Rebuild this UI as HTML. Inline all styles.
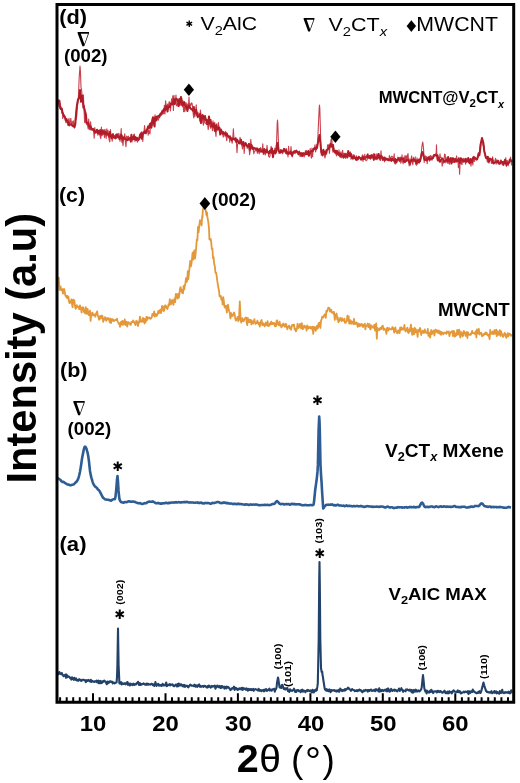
<!DOCTYPE html>
<html><head><meta charset="utf-8"><style>
html,body{margin:0;padding:0;background:#fff;}
body{width:520px;height:783px;overflow:hidden;}
svg{display:block;filter:blur(0.35px);font-family:"Liberation Sans",Arial,sans-serif;}
</style></head><body>
<svg width="520" height="783" viewBox="0 0 520 783">
<rect width="520" height="783" fill="#fff"/>
<polyline points="57.0,97.7 57.6,105.3 58.2,106.3 58.8,100.1 59.4,102.7 60.0,103.2 60.6,109.5 61.2,106.9 61.8,113.1 62.4,110.4 62.7,118.5 63.0,112.3 63.6,116.9 64.2,117.3 64.8,115.4 65.4,120.1 66.0,122.8 66.6,120.0 67.2,121.3 67.8,125.3 68.5,120.2 69.0,118.3 69.6,125.9 70.2,122.5 70.8,118.3 71.4,122.7 72.0,124.8 72.6,121.9 73.3,120.8 73.8,126.1 74.4,128.1 75.0,122.0 75.6,115.7 76.2,119.2 76.8,115.7 77.4,106.0 78.0,102.5 78.6,93.6 78.9,84.5 79.2,77.4 80.0,66.0 80.4,70.6 81.0,87.5 81.6,89.9 82.0,95.5 82.8,97.5 83.4,94.9 83.8,104.6 84.6,122.5 85.2,111.0 85.8,123.2 86.4,123.3 87.0,124.7 87.6,125.6 88.2,129.0 88.7,119.0 89.4,129.4 90.0,129.9 90.6,121.9 91.2,129.9 91.8,128.2 92.4,130.1 93.0,128.2 93.5,129.9 94.2,138.1 94.8,127.5 95.4,132.9 96.0,130.6 96.6,132.9 97.2,129.6 97.8,135.3 98.4,133.8 99.0,131.3 99.6,134.2 100.2,136.5 100.8,138.5 101.4,127.1 102.0,135.7 102.6,134.5 103.0,132.7 103.8,129.8 104.4,137.7 105.0,129.4 105.6,135.8 106.2,138.4 106.8,128.9 107.4,133.4 108.0,130.2 108.6,135.6 109.2,140.1 109.8,141.9 110.4,129.5 111.0,135.5 111.6,138.0 112.2,141.1 112.7,137.4 113.4,133.7 114.0,137.3 114.6,135.5 115.2,135.9 115.8,134.3 116.4,138.2 117.0,138.0 117.6,136.9 118.2,136.6 118.8,133.2 119.4,135.9 120.0,141.5 120.6,137.1 121.2,128.6 121.8,142.2 122.3,139.7 123.0,145.7 123.6,138.4 124.2,136.8 124.8,133.7 125.4,142.7 126.0,146.8 126.6,136.0 127.2,136.6 127.8,140.7 128.4,136.1 129.0,138.0 129.6,137.8 130.2,139.6 130.8,142.5 131.4,139.1 132.0,141.9 132.6,137.6 133.2,140.0 133.8,134.2 134.4,134.1 135.0,141.4 135.6,136.6 136.2,140.1 136.8,139.8 137.4,142.1 138.0,140.3 138.6,140.7 139.2,136.8 139.6,134.7 140.4,134.2 141.0,134.5 141.6,131.9 142.2,133.2 142.8,141.4 143.4,134.5 144.0,131.8 144.6,125.6 145.2,133.8 145.8,131.5 146.4,133.8 147.0,131.4 147.3,130.9 147.6,126.1 148.2,135.2 148.8,130.1 149.4,133.4 150.0,133.8 150.6,122.3 151.2,126.1 151.8,125.7 152.4,125.4 153.0,124.7 153.6,122.8 154.2,122.0 155.0,114.7 155.4,119.4 156.0,116.5 156.6,119.3 157.2,116.3 157.8,120.0 158.4,120.2 159.0,117.5 159.6,116.9 160.2,115.4 160.8,112.6 161.4,113.1 162.0,111.1 162.6,114.2 163.2,112.0 163.8,113.8 164.4,105.2 165.0,114.0 165.6,100.8 166.2,106.0 166.8,107.8 167.5,104.0 168.0,108.8 168.6,104.5 169.2,101.7 169.8,102.1 170.4,111.0 171.0,104.8 171.6,98.8 172.2,103.5 172.8,95.9 173.4,110.5 174.0,95.2 174.6,104.0 175.2,104.0 176.0,95.0 176.4,105.4 177.0,106.0 177.6,103.7 178.2,102.9 178.8,106.1 179.4,102.7 180.0,105.3 180.6,101.8 181.2,105.4 181.8,98.5 182.5,106.6 183.0,100.9 183.6,111.7 184.2,104.3 184.8,111.7 185.4,108.8 186.0,102.6 186.6,108.4 187.2,103.8 187.8,105.7 188.4,107.1 189.0,97.1 189.6,108.5 190.2,103.8 190.8,105.7 191.4,102.9 192.0,103.2 192.5,106.0 193.2,114.0 193.8,118.0 194.4,111.3 195.0,116.4 195.6,111.2 196.2,104.8 196.8,113.8 197.4,115.5 198.0,112.4 198.6,115.8 199.2,117.4 199.8,121.2 200.4,110.1 201.0,115.6 201.6,116.1 202.2,116.0 202.8,121.8 203.4,125.1 204.0,117.1 204.6,121.9 205.0,123.2 205.8,122.9 206.4,124.6 207.0,119.5 207.6,124.2 208.2,129.6 208.8,125.3 209.4,120.4 210.0,125.4 210.6,128.3 211.2,125.4 211.8,122.3 212.4,130.6 213.0,120.7 213.6,127.6 214.2,126.1 214.8,122.3 215.4,131.5 216.0,136.4 216.6,123.8 217.2,130.6 217.8,127.4 218.4,122.6 219.0,127.4 219.6,131.2 220.2,133.0 220.8,131.9 221.4,131.9 222.0,133.9 222.6,133.4 223.2,137.2 223.8,134.1 224.4,132.7 225.0,136.3 225.6,131.4 226.0,136.0 226.8,140.8 227.4,133.6 228.0,135.6 228.6,138.0 229.2,135.7 229.8,142.3 230.4,135.9 231.0,139.3 231.6,140.7 232.2,143.3 232.8,137.8 233.4,128.9 234.0,139.4 234.6,139.2 235.4,141.3 235.8,137.4 236.4,142.5 237.0,152.8 237.6,144.1 238.2,143.2 238.8,141.5 239.4,143.3 240.0,137.4 240.6,139.7 241.2,144.8 241.8,143.6 242.4,148.9 243.0,142.1 243.6,145.0 244.2,153.4 245.0,142.7 245.4,142.5 246.0,145.3 246.6,145.5 247.2,148.4 247.8,146.5 248.4,144.1 249.0,147.2 249.6,154.6 250.2,150.7 250.8,139.2 251.4,147.0 252.0,145.2 252.6,149.7 253.2,147.6 253.8,153.8 254.6,151.2 255.0,151.3 255.6,149.5 256.2,149.1 256.8,150.4 257.4,153.3 258.0,151.4 258.6,149.2 259.2,154.0 259.8,151.2 260.4,147.5 261.0,148.9 261.6,149.7 262.2,149.7 262.8,143.9 263.4,154.5 264.2,153.3 264.6,151.3 265.2,155.0 265.8,153.2 266.4,153.0 267.0,145.3 267.6,151.5 268.2,153.6 268.8,156.6 269.4,157.2 270.0,156.1 270.6,149.1 271.2,146.3 272.0,153.8 272.4,152.4 273.0,154.9 273.6,151.7 274.2,152.8 274.8,148.1 275.4,153.3 276.0,151.1 276.6,141.2 277.2,123.6 277.5,120.0 277.8,123.5 278.4,140.7 279.0,153.5 279.6,153.3 280.2,150.3 280.8,150.7 281.4,152.7 282.0,151.0 282.6,153.8 283.2,152.1 283.5,149.4 283.8,148.9 284.4,151.7 285.0,152.0 285.6,153.2 286.2,148.3 286.8,150.4 287.4,152.0 288.0,156.9 288.6,146.4 289.2,154.1 290.0,151.6 290.4,154.1 291.0,146.6 291.6,153.9 292.2,157.0 292.8,153.1 293.4,153.7 294.0,153.5 294.6,150.3 295.2,153.7 295.8,151.6 296.4,149.9 297.0,151.9 297.5,151.4 298.2,154.1 298.8,152.1 299.4,151.0 300.0,156.6 300.6,154.9 301.2,156.6 301.8,155.1 302.4,155.3 303.0,153.0 303.6,153.5 304.2,156.9 305.0,154.8 305.4,150.6 306.0,154.3 306.6,150.6 307.2,154.6 307.8,154.4 308.4,150.4 309.0,153.9 309.6,153.1 310.2,148.5 310.8,154.7 311.4,158.2 312.0,148.0 312.6,156.6 313.2,149.2 313.8,149.1 314.4,149.2 315.0,144.9 315.6,152.0 316.2,149.1 316.8,144.5 317.5,144.2 318.0,134.2 318.6,120.7 319.2,107.9 319.5,105.0 319.8,108.2 320.4,128.5 321.0,150.6 321.3,155.3 321.6,151.0 322.2,150.7 322.8,154.2 323.4,152.3 324.0,152.6 324.6,156.4 325.0,158.0 325.8,153.8 326.4,151.8 327.0,152.9 327.6,144.8 328.2,148.8 328.8,144.5 329.4,153.5 330.0,147.8 330.6,145.5 331.0,139.7 331.8,138.1 332.4,148.5 333.0,152.3 333.6,147.5 334.2,151.9 335.0,153.0 335.4,150.4 336.0,154.3 336.6,155.9 337.2,153.3 337.8,153.0 338.4,155.6 339.0,149.8 339.6,154.5 340.2,157.4 340.8,151.7 341.4,157.8 342.0,154.3 342.6,150.2 343.2,155.5 343.8,153.4 344.4,156.8 345.0,153.0 345.6,158.5 346.2,153.5 346.8,155.8 347.4,152.7 348.0,152.9 348.8,156.2 349.2,154.2 349.8,153.3 350.4,151.9 351.0,159.1 351.6,158.6 352.0,156.2 352.8,157.8 353.4,154.7 354.0,154.9 354.6,155.5 355.2,158.5 355.8,158.5 356.4,155.9 357.0,159.7 357.6,159.9 358.2,158.4 358.8,156.5 359.4,157.3 360.0,157.2 360.6,159.2 361.2,157.9 361.8,159.9 362.4,154.8 363.0,161.5 363.6,155.9 364.2,157.4 364.8,154.3 365.4,159.2 366.0,160.8 366.6,160.3 367.2,159.6 367.8,153.5 368.4,155.4 369.0,156.2 369.6,156.4 370.2,159.2 370.8,157.7 371.4,157.1 372.0,158.3 372.6,154.7 373.2,154.7 373.8,153.6 374.4,158.3 375.0,157.9 375.6,158.5 376.2,159.8 376.8,153.7 377.4,155.7 378.0,157.6 378.6,153.9 379.2,156.1 379.8,160.1 380.4,160.4 381.0,150.8 381.6,158.0 382.2,157.5 382.8,160.5 383.4,157.4 384.0,159.3 384.6,162.0 385.2,157.9 385.8,157.4 386.4,159.0 387.0,160.6 387.6,160.4 388.2,159.7 388.8,160.8 389.4,155.5 390.0,157.4 390.6,159.9 391.2,157.2 391.8,156.2 392.4,156.6 393.0,157.3 393.6,159.2 394.2,153.9 394.8,163.7 395.4,164.0 396.0,159.4 396.6,162.9 397.2,160.5 397.8,157.0 398.4,159.2 399.0,157.4 399.6,161.7 400.2,157.0 400.8,163.2 401.4,161.3 402.0,154.8 402.6,161.9 403.2,163.8 403.8,157.0 404.4,162.4 405.0,155.5 405.6,160.7 406.2,155.9 406.8,161.3 407.4,155.7 408.0,153.6 408.6,161.2 409.2,166.0 409.8,158.8 410.4,165.3 411.0,160.7 411.6,155.7 412.2,162.0 412.8,164.6 413.4,157.4 414.0,161.9 414.6,161.4 415.2,156.9 415.8,164.4 416.4,165.2 417.0,157.8 417.6,164.3 418.2,159.9 418.8,159.2 419.4,163.1 420.0,159.6 420.6,157.3 421.2,154.2 421.8,147.3 422.6,142.0 423.0,143.5 423.6,149.6 424.2,162.4 424.5,157.8 424.8,160.4 425.4,155.9 426.0,159.4 426.6,156.6 427.2,163.8 427.8,157.0 428.4,159.1 429.0,158.7 429.6,161.2 430.2,155.2 430.8,158.4 431.4,156.0 432.0,160.3 432.6,158.8 433.2,155.8 433.8,156.9 434.4,154.6 435.0,156.1 435.6,154.1 436.2,152.3 436.5,144.9 436.8,155.1 437.4,161.0 438.0,155.1 438.6,158.6 439.2,161.6 440.0,153.8 440.4,157.5 441.0,157.1 441.6,159.8 442.2,166.2 442.8,161.2 443.4,163.2 444.0,159.7 444.6,154.1 445.2,154.5 445.8,162.9 446.4,160.8 447.0,157.1 447.6,163.2 448.2,156.6 448.8,163.2 449.4,164.1 450.0,158.5 450.6,157.7 451.2,162.6 451.8,157.7 452.4,162.6 453.0,157.5 453.6,162.5 454.2,160.7 454.8,159.4 455.4,158.3 456.0,161.1 456.6,155.8 457.0,159.8 457.8,159.5 458.4,167.6 459.0,157.4 459.6,174.2 460.2,159.7 460.8,157.6 461.4,163.9 462.0,164.6 462.6,160.0 463.2,158.2 463.8,160.5 464.4,158.7 465.0,159.6 465.6,164.2 466.2,161.3 466.8,161.1 467.4,161.1 468.0,160.1 468.6,162.3 469.2,162.4 469.8,159.2 470.4,160.3 471.0,166.1 471.6,161.0 472.2,159.5 472.8,165.0 473.4,159.8 474.0,157.0 474.6,161.4 475.2,157.4 476.0,158.3 476.4,160.1 477.0,158.3 477.6,155.6 478.2,154.7 479.0,154.9 479.4,155.6 480.0,146.6 480.6,142.4 481.2,142.9 482.0,138.0 482.4,139.6 483.0,145.4 483.6,145.4 484.2,146.1 485.0,155.2 485.4,155.0 486.0,158.5 486.6,157.6 487.2,161.3 488.0,162.5 488.4,156.6 489.0,163.2 489.6,160.3 490.2,158.8 490.8,159.7 491.4,163.2 492.0,163.4 492.6,156.7 493.2,161.6 493.8,161.2 494.4,161.2 495.0,160.5 495.6,158.2 496.2,164.1 497.0,159.7 497.4,161.1 498.0,160.6 498.6,160.3 499.2,164.0 499.8,163.1 500.4,160.5 501.0,159.9 501.6,161.1 502.2,164.7 502.8,162.6 503.4,164.0 504.0,161.5 504.6,161.7 505.2,162.9 505.8,157.8 506.4,166.5 507.0,160.5 507.6,161.0 508.2,165.8 508.8,163.0 509.4,162.6 510.0,161.0 510.6,157.0 511.2,163.0 512.0,165.5" fill="none" stroke="#c8404c" stroke-width="1.1" stroke-linejoin="round"/>
<polyline points="57.0,98.4 57.8,101.9 58.6,102.8 59.4,100.6 60.2,108.4 61.0,109.2 61.8,108.6 62.7,113.4 63.4,114.5 64.2,116.2 65.0,117.4 65.8,120.4 66.6,119.1 67.4,121.8 68.5,122.5 69.0,125.2 69.8,124.7 70.6,124.6 71.4,124.1 72.2,125.6 73.3,126.3 73.8,125.4 74.6,127.0 75.4,123.5 76.2,111.5 77.0,104.8 78.0,99.5 78.9,98.4 79.4,95.0 80.0,90.0 81.0,101.8 82.0,95.6 82.6,98.4 83.4,107.6 83.8,105.7 84.2,107.9 85.0,111.2 85.8,113.9 86.6,121.3 87.4,123.8 88.2,122.9 88.7,124.9 89.8,127.4 90.6,126.3 91.4,128.6 92.2,129.5 93.0,129.8 93.5,129.0 94.6,131.7 95.4,132.6 96.2,131.7 97.0,129.7 97.8,133.0 98.6,130.8 99.4,133.8 100.2,130.1 101.0,134.2 101.8,132.6 102.6,130.4 103.0,132.4 103.4,133.2 104.2,133.9 105.0,131.7 105.8,131.7 106.6,134.6 107.4,133.5 108.2,135.1 109.0,136.4 109.8,132.0 110.6,135.9 111.4,138.0 112.2,135.3 112.7,134.4 113.8,137.7 114.6,136.9 115.4,138.4 116.2,136.2 117.0,134.2 117.8,137.0 118.6,136.5 119.4,139.0 120.2,138.0 121.0,134.7 121.8,135.7 122.3,139.7 123.4,139.4 124.2,137.1 125.0,138.4 125.8,139.3 126.6,139.5 127.4,140.3 128.2,139.3 129.0,138.7 129.8,138.4 130.6,140.9 131.4,134.8 132.0,138.7 133.0,139.0 133.8,136.2 134.6,139.3 135.4,137.3 136.2,139.9 137.0,137.8 137.8,139.0 138.6,139.7 139.6,137.7 140.2,135.0 141.0,133.2 141.8,138.8 142.6,134.4 143.4,132.3 144.2,133.0 145.0,131.3 145.8,132.5 146.6,129.9 147.3,129.0 148.2,126.5 149.0,128.1 149.8,124.1 150.6,126.8 151.4,127.7 152.2,120.2 153.0,117.3 153.8,123.2 154.6,126.6 155.0,118.3 155.4,117.3 156.2,120.6 157.0,116.5 157.8,116.4 158.6,115.9 159.4,117.1 160.2,114.1 161.0,114.9 161.8,113.0 162.6,110.5 163.4,111.0 164.2,108.7 165.0,110.3 165.8,106.7 166.6,106.1 167.5,111.6 168.2,107.2 169.0,106.5 169.8,107.1 170.6,103.9 171.4,103.6 172.2,104.5 173.0,103.5 173.8,99.2 174.6,104.0 175.4,100.0 176.0,98.7 177.0,99.2 177.8,100.6 178.6,106.1 179.4,98.9 180.2,102.7 181.0,96.9 181.8,102.8 182.5,105.3 183.4,102.7 184.2,102.1 185.0,104.8 185.8,106.6 186.6,107.0 187.4,111.0 188.2,107.1 189.0,105.7 189.8,107.6 190.6,108.3 191.4,109.4 192.5,109.9 193.0,110.8 193.8,106.9 194.6,113.6 195.4,110.8 196.2,109.9 197.0,114.9 197.8,117.1 198.6,115.8 199.4,115.6 200.2,113.7 201.0,123.1 201.8,119.1 202.6,115.1 203.4,116.5 204.2,119.1 205.0,116.0 205.8,120.5 206.6,119.7 207.4,124.0 208.2,124.0 209.0,116.4 209.8,123.1 210.6,120.0 211.4,126.5 212.2,125.1 213.0,126.5 213.8,123.6 214.6,130.3 215.4,131.3 216.0,125.3 217.0,129.0 217.8,127.5 218.6,129.5 219.4,127.6 220.2,134.6 221.0,129.5 221.8,131.5 222.6,133.7 223.4,132.1 224.2,133.5 225.0,133.4 226.0,134.9 226.6,133.3 227.4,135.3 228.2,136.3 229.0,136.5 229.8,137.8 230.6,137.6 231.4,140.0 232.2,138.5 233.0,139.3 233.8,138.7 234.6,139.4 235.4,138.5 236.2,142.1 237.0,139.5 237.8,140.6 238.6,143.0 239.4,143.4 240.2,142.3 241.0,139.8 241.8,144.4 242.6,144.5 243.4,141.9 244.2,146.0 245.0,143.8 245.8,143.4 246.6,145.8 247.4,145.6 248.2,146.6 249.0,143.8 249.8,149.9 250.6,146.1 251.4,144.9 252.2,148.8 253.0,147.4 253.8,148.9 254.6,148.0 255.4,148.8 256.2,149.6 257.0,148.3 257.8,151.0 258.6,149.4 259.4,149.1 260.2,150.9 261.0,151.8 261.8,151.0 262.6,150.2 263.4,152.7 264.2,149.0 265.0,150.3 265.8,152.0 266.6,149.9 267.4,152.1 268.2,152.1 269.0,153.6 269.8,150.8 270.6,151.3 271.4,152.8 272.0,148.4 273.0,157.2 273.8,151.2 274.6,151.0 275.4,153.4 276.0,152.0 277.0,144.5 277.5,143.0 278.6,151.2 279.0,151.5 279.4,151.6 280.2,152.6 281.0,150.1 281.8,152.0 282.6,151.4 283.5,149.9 284.2,148.8 285.0,150.9 285.8,150.2 286.6,153.5 287.4,152.5 288.2,153.8 289.0,153.1 290.0,153.4 290.6,151.8 291.4,153.9 292.2,155.6 293.0,152.2 293.8,151.6 294.6,152.1 295.4,151.4 296.2,151.0 297.0,152.2 297.5,151.5 298.6,154.4 299.4,152.4 300.2,153.2 301.0,154.6 301.8,153.1 302.6,156.1 303.4,153.2 304.2,153.2 305.0,153.9 305.8,154.3 306.6,152.2 307.4,154.1 308.2,151.3 309.0,155.7 309.8,153.0 310.6,151.8 311.4,150.9 312.0,151.4 313.0,150.9 313.8,148.7 314.6,148.0 315.0,148.7 315.4,147.6 316.2,149.0 317.0,148.0 317.5,145.0 318.6,139.1 319.5,135.0 320.2,141.0 321.3,152.0 321.8,153.2 322.6,155.4 323.4,149.7 324.2,153.8 325.0,151.8 325.8,154.0 326.6,149.9 327.4,149.7 328.2,149.2 329.0,148.2 329.8,146.0 330.6,143.7 331.0,144.0 331.4,146.7 332.2,146.1 333.0,144.8 333.8,150.6 334.6,151.2 335.0,152.4 335.4,150.8 336.2,153.3 337.0,150.9 337.8,154.0 338.6,152.9 339.4,155.2 340.2,156.1 341.0,153.9 341.8,155.3 342.6,155.7 343.4,157.6 344.2,157.0 345.0,154.2 345.8,156.4 346.6,156.2 347.4,157.5 348.2,151.1 348.8,152.7 349.8,156.3 350.6,153.5 351.4,154.8 352.0,157.8 353.0,158.7 353.8,156.4 354.6,158.3 355.4,157.8 356.2,160.0 357.0,157.9 357.8,159.4 358.6,156.7 359.4,157.7 360.0,157.9 361.0,159.6 361.8,158.8 362.6,156.8 363.4,158.9 364.2,158.9 365.0,157.6 365.8,157.3 366.6,157.3 367.4,155.0 368.2,157.7 369.0,157.7 369.8,156.0 370.6,158.3 371.4,155.1 372.2,156.3 373.0,156.3 373.8,159.9 374.6,154.6 375.0,157.8 375.4,158.4 376.2,157.6 377.0,158.8 377.8,155.7 378.6,154.0 379.4,158.6 380.2,155.9 381.0,157.3 381.8,156.3 382.6,159.7 383.4,159.6 384.2,157.5 385.0,160.0 385.8,159.1 386.6,158.9 387.4,159.3 388.2,159.0 389.0,160.3 390.0,160.0 390.6,159.0 391.4,161.0 392.2,158.7 393.0,160.1 393.8,160.3 394.6,161.8 395.4,159.0 396.2,162.3 397.0,160.0 397.8,159.5 398.6,158.8 399.4,160.7 400.2,159.9 401.0,158.3 401.8,158.3 402.6,159.1 403.4,159.0 404.2,161.5 405.0,162.0 405.8,161.3 406.6,160.6 407.4,159.5 408.2,160.3 409.0,161.5 409.8,163.4 410.6,161.7 411.4,160.0 412.2,160.5 413.0,159.8 414.0,159.4 414.6,160.2 415.4,160.7 416.2,163.0 417.0,160.2 417.8,161.9 418.6,162.2 419.4,159.4 420.0,161.3 421.0,157.3 421.8,153.2 422.6,152.0 423.4,155.1 424.5,159.7 425.0,159.7 425.8,160.1 426.6,160.4 427.4,158.3 428.2,159.4 429.0,157.0 429.8,159.3 430.6,159.5 431.4,158.5 432.0,158.4 433.0,158.1 433.8,155.3 434.6,155.0 435.4,155.3 436.5,155.5 437.0,154.9 437.8,159.7 438.6,157.7 439.4,161.0 440.0,161.8 441.0,159.9 441.8,158.9 442.6,158.5 443.4,160.4 444.2,161.9 445.0,160.7 445.8,160.6 446.6,159.8 447.4,161.2 448.2,157.3 449.0,160.8 449.8,160.5 450.6,158.5 451.4,163.6 452.2,158.5 453.0,158.9 453.8,158.7 454.6,162.1 455.4,159.2 456.2,161.5 457.0,161.4 457.8,160.9 458.6,158.6 459.4,159.6 460.2,162.9 461.0,158.6 461.8,159.3 462.6,160.2 463.4,161.6 464.2,160.8 465.0,161.5 465.8,158.8 466.6,161.7 467.4,161.1 468.2,157.9 469.0,162.4 469.8,163.4 470.6,158.9 471.4,160.1 472.2,162.0 473.0,157.7 473.8,156.9 474.6,157.8 475.4,158.8 476.0,158.7 477.0,159.5 477.8,157.5 478.6,153.2 479.0,154.9 479.4,155.3 480.2,149.0 481.0,142.4 482.0,138.0 482.6,140.0 483.4,143.1 484.2,151.3 485.0,153.9 485.8,157.6 486.6,158.1 487.4,156.9 488.0,159.2 489.0,161.4 489.8,158.4 490.6,159.6 491.4,159.6 492.2,158.9 493.0,162.7 493.8,163.4 494.6,162.8 495.4,162.2 496.2,161.9 497.0,162.3 497.8,161.0 498.6,163.4 499.4,163.7 500.2,163.5 501.0,161.5 501.8,162.4 502.6,162.1 503.4,164.9 504.2,162.6 505.0,159.7 505.8,163.0 506.6,165.2 507.4,163.4 508.2,163.7 509.0,162.5 509.8,159.6 510.6,159.9 511.4,160.7 512.0,162.3" fill="none" stroke="#b01c28" stroke-width="2" stroke-linejoin="round"/>
<polyline points="57.0,281.0 57.6,280.3 58.2,281.8 58.8,277.7 59.4,289.8 60.0,289.2 60.6,286.5 61.2,290.3 61.8,290.1 62.5,289.1 63.0,293.7 63.6,291.4 64.2,289.0 64.8,292.1 65.4,295.9 66.0,295.5 66.6,297.8 67.2,295.9 67.8,298.4 68.4,296.7 69.0,301.4 69.6,303.2 70.0,301.3 70.8,302.2 71.4,299.5 72.0,304.0 72.6,307.4 73.2,299.6 73.8,299.9 74.4,300.8 75.0,306.4 75.6,308.9 76.2,307.8 76.8,305.2 77.4,306.6 78.0,307.2 78.6,306.6 79.2,309.2 80.0,305.4 80.4,307.1 81.0,308.9 81.6,312.6 82.2,307.5 82.8,307.2 83.4,307.5 84.0,312.1 84.6,309.9 85.2,313.5 85.8,307.2 86.4,313.7 87.0,313.8 87.6,309.0 88.2,312.5 88.8,315.0 89.4,313.0 90.0,310.6 90.6,320.9 91.2,314.2 91.8,313.3 92.5,312.7 93.0,315.7 93.6,314.3 94.2,314.6 94.8,315.0 95.4,316.7 96.0,313.6 96.6,312.9 97.2,311.4 97.8,315.6 98.4,316.8 99.0,319.8 99.6,317.1 100.2,315.9 100.8,318.5 101.4,317.6 102.0,315.5 102.6,316.5 103.2,321.8 103.8,319.2 104.4,319.5 105.0,317.1 105.6,317.7 106.2,320.9 106.8,319.2 107.4,318.1 108.0,319.4 108.6,318.1 109.2,320.3 109.8,322.3 110.4,318.7 111.0,323.1 111.6,319.2 112.2,320.9 112.8,319.2 113.4,320.5 114.0,321.1 114.6,320.3 115.2,319.9 115.8,320.1 116.4,319.9 117.0,318.6 117.5,321.2 118.2,322.6 118.8,323.7 119.4,323.3 120.0,326.9 120.6,323.0 121.2,321.7 121.8,324.7 122.4,320.8 123.0,324.8 123.6,321.3 124.2,323.9 124.8,319.5 125.4,325.1 126.0,323.1 126.6,321.6 127.2,326.7 127.5,325.0 127.8,323.6 128.4,322.1 129.0,323.4 129.6,323.1 130.2,324.8 130.8,324.8 131.4,322.0 132.0,322.1 132.6,322.1 133.2,320.4 133.8,321.8 134.4,322.6 135.0,324.0 135.6,325.1 136.2,320.9 136.8,323.3 137.4,321.3 138.0,326.0 138.6,321.8 139.2,322.7 140.0,316.7 140.4,320.0 141.0,321.7 141.6,320.5 142.2,321.7 142.8,317.9 143.4,321.9 144.0,318.7 144.6,323.5 145.2,319.4 145.8,321.8 146.4,316.8 147.0,320.0 147.6,317.2 148.2,317.7 148.8,318.4 149.4,317.4 150.0,318.3 150.6,318.9 151.2,318.4 151.8,316.7 152.5,313.8 153.0,314.7 153.6,315.5 154.2,311.4 154.8,316.7 155.4,314.4 156.0,314.0 156.6,316.0 157.2,315.0 157.8,313.7 158.4,310.8 159.0,313.0 159.6,312.7 160.2,309.7 160.8,313.2 161.4,311.7 162.0,306.0 162.6,309.9 163.2,306.6 163.8,311.1 164.4,310.0 165.0,305.4 165.6,305.4 166.2,307.0 166.8,308.2 167.4,309.1 168.0,306.9 168.6,304.1 169.2,305.4 169.8,299.1 170.4,303.7 171.0,304.4 171.6,301.6 172.2,299.9 172.8,302.2 173.4,304.9 174.0,300.4 174.6,298.5 175.2,302.2 175.8,294.0 176.4,294.2 177.0,295.7 177.5,298.7 178.2,293.6 178.8,297.9 179.4,294.6 180.0,288.8 180.6,287.1 181.2,290.1 182.0,292.7 182.4,289.9 183.0,293.4 183.6,286.0 184.2,289.5 185.0,284.5 185.4,283.2 186.0,278.1 186.6,282.0 187.2,280.5 187.8,271.1 188.3,279.4 189.0,272.7 189.6,267.2 190.2,261.0 190.8,266.4 191.5,263.7 192.0,258.5 192.6,252.7 193.2,259.7 193.8,252.2 194.4,250.4 195.0,258.7 195.6,253.9 196.2,247.2 196.8,239.5 197.4,240.2 198.0,227.0 198.6,232.4 199.2,226.1 200.0,220.2 200.4,223.8 201.0,222.3 201.6,225.5 202.2,216.0 202.5,217.7 202.8,210.4 203.4,208.1 204.0,206.9 204.6,209.0 205.0,209.0 205.8,210.4 206.4,215.1 207.0,212.3 207.4,217.2 208.2,221.3 209.0,228.2 209.4,239.3 210.0,239.7 210.7,238.9 211.2,242.3 211.8,248.8 212.4,248.4 213.0,258.3 213.6,257.1 214.2,264.0 214.9,266.6 215.4,272.7 216.0,272.5 216.6,275.4 217.2,280.4 217.8,284.1 218.2,286.8 219.0,290.7 219.6,296.3 220.2,296.6 220.8,295.9 221.4,299.8 222.0,298.2 222.6,304.5 223.2,297.1 223.8,300.7 224.4,306.5 225.0,307.6 225.6,305.8 226.2,306.1 226.8,312.6 227.5,305.5 228.0,304.7 228.6,309.0 229.2,311.2 229.8,313.1 230.4,318.5 231.0,313.0 231.5,316.6 232.2,315.1 232.8,315.9 233.4,313.5 234.0,312.5 234.6,314.0 235.2,318.5 236.0,320.6 236.4,318.9 237.0,319.1 237.6,316.9 238.2,321.2 239.0,319.8 239.4,309.9 239.8,301.3 240.6,318.5 241.2,322.5 241.8,320.7 242.4,318.2 243.0,321.0 243.6,321.1 244.2,319.6 245.0,318.1 245.4,318.2 246.0,317.4 246.6,321.8 247.2,325.2 247.8,317.9 248.4,321.6 249.0,322.2 249.6,319.7 250.2,322.1 250.8,319.8 251.4,324.3 252.0,321.0 252.6,322.4 253.2,323.6 253.8,321.6 254.4,319.1 254.8,321.5 255.6,324.0 256.2,322.5 256.8,323.1 257.4,320.7 258.0,323.0 258.6,324.2 259.2,322.9 259.8,326.5 260.4,322.5 261.0,321.0 261.6,320.0 262.2,325.2 262.8,322.9 263.4,325.0 264.0,324.0 264.6,326.3 265.0,325.6 265.8,322.5 266.4,323.8 267.0,325.4 267.6,321.1 268.2,326.2 268.8,325.8 269.4,325.5 270.0,323.3 270.6,324.3 271.2,321.7 271.8,324.0 272.4,322.8 273.0,324.1 273.6,323.1 274.2,322.9 275.0,326.4 275.4,324.0 276.0,326.1 276.6,320.6 277.2,320.4 277.8,324.3 278.4,324.6 279.0,325.6 279.6,321.7 280.2,324.8 280.8,325.2 281.4,327.4 282.0,325.0 282.6,326.2 283.2,323.5 283.8,325.1 284.4,324.7 285.0,326.9 285.6,323.8 286.2,324.2 286.8,327.0 287.4,329.3 288.0,326.8 288.6,326.7 289.2,325.5 290.0,328.4 290.4,327.4 291.0,329.7 291.6,327.1 292.2,324.8 292.8,325.6 293.4,324.9 294.0,324.5 294.6,329.3 295.2,328.5 295.8,331.4 296.4,330.5 297.0,327.7 297.6,323.6 298.2,328.1 298.8,327.1 299.4,326.0 300.0,323.9 300.6,327.7 301.2,328.2 301.8,323.2 302.5,328.9 303.0,329.0 303.6,327.0 304.2,325.5 304.8,327.5 305.4,326.5 306.0,327.4 306.6,330.7 307.2,325.4 307.8,326.6 308.4,328.6 309.0,327.0 309.6,327.5 310.2,328.3 310.8,326.8 311.4,328.4 312.0,329.0 312.6,326.7 313.2,333.9 313.8,327.0 314.4,328.1 315.0,327.1 315.6,330.9 316.2,329.4 317.0,325.6 317.4,328.8 318.0,327.9 318.6,323.1 319.2,326.3 319.8,322.3 320.4,328.0 321.0,320.9 321.6,319.4 322.2,316.7 322.8,317.0 323.4,317.5 324.0,315.4 324.6,314.4 325.2,314.6 325.5,315.1 325.8,317.9 326.4,310.6 327.0,311.8 327.6,309.9 328.2,307.8 328.8,307.7 329.5,308.1 330.0,311.6 330.6,310.0 331.2,309.7 331.8,312.6 332.4,312.5 333.0,312.1 333.6,313.9 334.0,311.8 334.8,320.0 335.4,315.7 336.0,314.5 336.6,313.5 337.2,319.5 337.8,317.3 338.4,322.3 339.0,321.2 339.6,320.0 340.2,317.9 340.8,319.6 341.4,321.0 342.0,318.2 342.6,319.8 343.2,320.6 344.0,320.8 344.4,318.7 345.0,322.9 345.6,322.8 346.2,321.9 346.8,320.9 347.4,315.7 348.0,320.5 348.6,316.3 349.2,323.6 349.8,321.7 350.4,320.2 351.0,323.9 351.6,321.4 352.0,321.5 352.8,322.8 353.4,324.2 354.0,318.9 354.6,323.4 355.2,324.1 355.8,323.2 356.4,322.4 357.0,323.1 357.6,326.9 358.2,323.6 358.8,325.9 359.4,326.2 360.0,324.0 360.6,325.8 361.2,324.2 361.8,324.0 362.4,325.7 363.0,327.1 363.6,324.8 364.2,324.6 364.8,323.6 365.4,329.4 365.8,326.2 366.6,325.9 367.2,325.0 367.8,323.5 368.4,327.1 369.0,327.2 369.6,324.1 370.2,329.4 370.8,328.5 371.4,325.4 372.0,326.3 372.6,326.6 373.2,327.9 373.8,327.4 374.4,324.7 375.0,330.7 375.6,328.6 376.2,323.5 376.8,338.8 377.4,328.0 378.0,329.1 378.6,330.0 379.2,330.2 379.8,328.5 380.4,327.8 381.0,329.2 381.6,327.7 382.2,326.2 382.8,325.7 383.4,329.8 384.0,328.4 384.6,328.8 385.2,329.9 385.8,330.7 386.4,333.8 387.0,328.0 387.6,327.7 388.2,330.7 388.8,329.3 389.4,328.2 390.0,329.2 390.6,329.2 391.2,329.5 391.8,329.3 392.4,327.0 393.0,329.2 393.6,328.3 394.2,332.7 394.8,329.8 395.4,327.4 396.0,331.4 396.6,331.3 397.2,333.3 397.8,331.3 398.4,330.2 399.0,332.7 399.6,333.1 400.2,327.4 400.8,330.4 401.4,327.3 402.0,329.4 402.6,328.4 403.2,329.6 403.8,329.1 404.4,324.8 405.0,329.8 405.6,331.5 406.2,330.5 406.8,329.0 407.4,327.7 408.0,332.5 408.6,333.0 409.2,329.5 409.8,331.5 410.4,327.6 411.0,324.6 411.6,330.2 412.2,334.8 412.8,329.0 413.4,329.5 414.0,334.3 414.6,327.7 415.2,332.6 415.8,329.2 416.4,331.2 417.0,332.1 417.6,336.8 418.2,329.7 418.8,331.3 419.4,331.5 420.0,328.0 420.6,329.5 421.2,335.1 421.8,332.5 422.4,331.7 423.0,330.8 423.6,332.9 424.2,332.9 424.8,329.4 425.4,332.0 426.0,332.7 426.6,333.0 427.2,333.0 427.8,328.8 428.4,335.8 429.0,332.7 429.6,335.7 430.2,337.7 430.8,332.0 431.4,330.0 432.0,334.0 432.6,332.0 433.2,331.5 433.8,330.4 434.4,335.6 435.0,331.5 435.6,329.7 436.2,331.6 436.8,330.2 437.4,332.7 438.0,331.7 438.6,330.5 439.2,333.6 440.0,331.3 440.4,333.9 441.0,334.9 441.6,331.9 442.2,333.5 442.8,333.0 443.4,334.3 444.0,332.6 444.6,332.9 445.2,332.6 445.8,333.3 446.4,333.9 447.0,331.4 447.6,331.8 448.2,332.8 448.8,331.5 449.4,336.1 450.0,333.8 450.6,332.8 451.2,331.7 451.8,331.4 452.4,331.1 453.0,336.1 453.6,330.8 454.2,331.4 454.8,336.6 455.4,335.9 456.0,333.3 456.6,335.3 457.2,329.9 457.8,333.1 458.4,334.5 459.0,329.6 459.6,330.7 460.2,337.5 460.8,335.4 461.4,332.1 462.0,333.8 462.6,336.3 463.2,335.2 463.8,330.8 464.4,333.2 465.0,332.6 465.6,335.8 466.2,333.7 466.8,331.9 467.4,338.0 468.0,332.5 468.6,334.4 469.2,334.8 470.0,335.0 470.4,333.8 471.0,334.6 471.6,332.6 472.2,330.9 472.8,333.2 473.4,333.2 474.0,333.3 474.6,333.9 475.2,332.5 475.8,331.2 476.4,337.5 477.0,329.5 477.6,333.7 478.2,332.4 478.8,328.8 479.4,334.5 480.0,333.3 480.6,333.1 481.2,332.6 481.8,335.9 482.4,336.2 483.0,334.4 483.6,335.2 484.2,333.7 484.8,334.2 485.4,332.5 486.0,334.0 486.6,332.6 487.2,334.7 487.8,335.5 488.4,334.6 489.0,336.3 489.6,339.1 490.2,330.0 490.8,334.1 491.4,333.0 492.0,333.5 492.6,331.5 493.2,334.2 493.8,333.6 494.4,330.1 495.0,333.9 495.6,333.4 496.2,329.7 496.8,336.2 497.4,331.1 498.0,332.4 498.6,334.8 499.2,333.0 499.8,330.1 500.4,336.0 501.0,331.1 501.6,333.1 502.2,334.5 502.8,336.9 503.4,336.6 504.0,334.7 504.6,332.9 505.2,333.6 505.8,336.4 506.4,337.8 507.0,335.4 507.6,333.2 508.2,336.4 508.8,333.7 509.4,333.7 510.0,333.9 510.6,335.6 511.2,335.0 512.0,336.4" fill="none" stroke="#e4983a" stroke-width="1.8" stroke-linejoin="round"/>
<polyline points="57.0,477.4 57.5,477.9 58.0,478.3 58.5,478.4 59.0,479.1 59.5,479.2 60.0,479.6 60.5,479.9 61.0,480.7 61.5,481.3 62.0,481.6 62.5,482.0 63.0,481.8 63.5,482.0 64.0,482.2 64.5,482.6 65.0,482.9 65.5,483.3 66.0,483.6 66.5,483.8 67.0,484.2 67.5,484.4 68.0,484.5 68.5,484.7 69.0,484.7 69.5,485.0 70.0,485.2 70.5,485.2 71.0,485.3 71.5,484.9 72.0,484.8 72.5,484.8 73.0,484.6 73.5,484.4 74.0,484.2 74.5,483.5 75.0,483.2 75.5,482.7 76.0,482.0 76.5,481.8 77.0,481.0 77.5,480.2 78.0,479.2 78.5,477.9 79.0,476.1 79.5,474.0 80.0,471.8 80.5,468.9 81.0,465.8 81.5,462.2 82.0,458.7 82.5,456.1 83.0,453.5 83.5,451.0 84.0,448.7 84.5,447.1 85.0,446.5 85.5,446.8 86.0,447.7 86.5,448.8 87.0,450.7 87.5,452.3 88.0,454.7 88.5,458.0 89.0,461.6 89.5,466.5 90.0,470.9 90.5,473.7 91.0,476.2 91.5,478.1 92.0,479.6 92.5,481.6 93.0,482.9 93.5,484.1 94.0,485.0 94.5,485.7 95.0,486.4 95.5,486.8 96.0,487.2 96.5,487.7 97.0,488.2 97.5,488.8 98.0,489.6 98.5,490.0 98.8,490.2 99.0,490.4 99.5,491.0 100.0,492.0 100.5,492.9 101.0,493.8 101.5,494.8 102.0,495.7 102.5,496.9 103.0,497.7 103.5,498.1 103.8,498.2 104.0,498.4 104.5,498.9 105.0,499.3 105.5,499.4 106.0,499.5 106.5,499.5 107.0,499.7 107.5,499.8 108.0,499.8 108.5,499.9 109.0,499.9 109.5,500.1 110.0,500.4 110.5,500.6 111.0,500.7 111.5,500.4 112.0,500.0 112.5,499.6 113.0,499.4 113.5,499.2 114.0,499.3 114.5,499.3 115.0,498.8 115.5,496.6 116.2,489.8 116.5,486.4 117.0,479.5 117.5,476.0 118.0,481.7 118.5,490.2 119.0,495.8 119.5,499.3 120.0,500.5 120.5,501.4 121.0,502.0 121.5,502.2 122.0,502.3 122.5,502.4 123.0,502.6 123.5,502.6 124.0,502.6 124.5,502.4 125.0,502.1 125.5,502.0 126.0,502.0 126.5,502.1 127.0,502.1 127.5,502.0 128.0,501.7 128.5,501.2 129.0,501.2 129.5,501.4 130.0,501.5 130.5,501.7 131.0,501.7 131.5,501.7 132.0,501.5 132.5,501.5 133.0,501.6 133.5,501.6 134.0,501.8 134.5,501.9 135.0,501.9 135.5,502.2 136.0,502.4 136.5,502.6 137.0,502.8 137.5,502.9 138.0,503.3 138.5,503.1 139.0,503.3 139.5,503.2 140.0,503.1 140.5,503.5 141.0,503.6 141.5,503.8 142.0,503.9 142.5,504.0 143.0,503.8 143.5,503.6 144.0,503.5 144.5,503.1 145.0,503.3 145.5,503.2 146.0,503.2 146.5,503.0 147.0,502.5 147.5,502.3 148.0,501.9 148.5,501.7 149.0,501.7 149.5,501.6 150.0,501.7 150.5,501.7 151.0,501.8 151.5,501.8 152.0,501.6 152.5,501.7 153.0,501.5 153.5,501.7 154.0,502.1 154.5,502.4 155.0,502.7 155.5,503.1 156.0,503.1 156.5,503.3 157.0,503.3 157.5,503.0 158.0,503.2 158.5,503.0 159.0,503.2 159.5,503.4 160.0,503.5 160.5,503.7 161.0,503.5 161.5,503.6 162.0,503.3 162.5,503.3 163.0,503.4 163.5,503.3 164.0,503.3 164.5,503.2 165.0,503.2 165.5,502.9 166.0,502.9 166.5,502.8 167.0,502.9 167.5,503.3 168.0,503.0 168.5,503.2 169.0,503.0 169.5,502.7 170.0,502.9 170.5,502.8 171.0,502.6 171.5,502.6 172.0,502.5 172.5,502.5 173.0,502.5 173.5,502.6 174.0,502.6 174.5,502.4 175.0,502.5 175.5,502.3 176.0,502.1 176.5,502.5 177.0,502.5 177.5,502.4 178.0,502.3 178.5,502.1 179.0,502.3 179.5,502.3 180.0,502.4 180.5,502.5 181.0,502.2 181.5,502.4 182.0,502.3 182.5,502.3 183.0,502.3 183.5,502.1 184.0,502.0 184.5,502.2 185.0,502.1 185.5,502.1 186.0,502.1 186.5,501.8 187.0,501.9 187.5,502.0 188.0,502.2 188.5,502.5 189.0,502.5 189.5,502.4 190.0,502.5 190.5,502.4 191.0,502.4 191.5,502.5 192.0,502.6 192.5,502.5 193.0,502.5 193.5,502.6 194.0,502.7 194.5,502.7 195.0,502.7 195.5,502.7 196.0,502.6 196.5,502.5 197.0,502.6 197.5,502.7 198.0,502.5 198.5,503.0 199.0,503.0 199.5,502.8 200.0,503.0 200.5,502.7 201.0,502.6 201.5,502.9 202.0,502.8 202.5,503.3 203.0,503.4 203.5,503.3 204.0,503.5 204.5,503.0 205.0,503.0 205.5,503.0 206.0,502.9 206.5,503.0 207.0,503.2 207.5,503.1 208.0,503.0 208.5,503.1 209.0,503.2 209.5,503.3 210.0,503.6 210.5,503.8 211.0,503.7 211.5,503.5 212.0,503.2 212.5,502.9 213.0,502.9 213.5,503.0 214.0,503.1 214.5,502.9 215.0,502.8 215.5,502.6 216.0,502.4 216.5,502.3 217.0,502.1 217.5,502.1 218.0,502.0 218.5,502.0 219.0,502.3 219.5,502.4 220.0,502.9 220.5,503.1 221.0,503.0 221.5,503.1 222.0,502.8 222.5,502.7 223.0,502.9 223.5,502.8 224.0,502.4 224.5,502.6 225.0,502.5 225.5,502.8 226.0,503.1 226.5,502.9 227.0,503.2 227.5,503.0 228.0,503.1 228.5,503.5 229.0,503.4 229.5,503.5 230.0,503.6 230.5,503.6 231.0,503.5 231.5,503.6 232.0,503.7 232.5,504.0 233.0,504.1 233.5,503.9 234.0,504.0 234.5,503.7 235.0,503.8 235.5,504.0 236.0,504.1 236.5,504.1 237.0,504.1 237.5,503.8 238.0,503.6 238.5,503.9 239.0,503.9 239.5,504.1 240.0,504.1 240.5,504.0 241.0,504.1 241.5,504.1 242.0,504.3 242.5,504.3 243.0,504.4 243.5,504.5 244.0,504.6 244.5,504.7 245.0,504.6 245.5,504.6 246.0,504.4 246.5,504.4 247.0,504.4 247.5,504.6 248.0,504.8 248.5,504.8 249.0,505.0 249.5,504.8 250.0,504.6 250.5,504.4 251.0,504.5 251.5,504.5 252.0,504.8 252.5,504.7 253.0,504.6 253.5,504.5 254.0,504.6 254.5,504.7 255.0,504.7 255.5,504.6 256.0,504.4 256.5,504.6 257.0,504.7 257.5,504.8 258.0,505.0 258.5,505.0 259.0,505.1 259.5,505.3 260.0,505.3 260.5,505.2 261.0,505.1 261.5,505.0 262.0,505.0 262.5,505.0 263.0,505.1 263.5,505.0 264.0,504.9 264.5,505.0 265.0,504.7 265.5,505.0 266.0,505.0 266.5,505.0 267.0,504.9 267.5,504.9 268.0,504.9 268.5,505.0 269.0,505.1 269.5,505.1 270.0,505.0 270.5,504.9 271.0,504.7 271.5,504.4 272.0,504.3 272.5,504.0 273.0,503.9 273.5,504.0 274.0,503.9 274.5,503.6 275.0,503.3 275.5,502.5 276.0,501.9 276.5,501.4 277.0,501.0 277.5,501.5 278.0,501.8 278.5,502.5 279.0,503.2 279.5,503.7 280.0,503.9 280.5,504.0 281.0,504.2 281.5,504.0 282.0,504.0 282.5,503.9 283.0,503.9 283.5,504.1 284.0,504.4 284.6,504.4 285.0,504.3 285.5,504.2 286.0,504.0 286.5,504.1 287.0,504.3 287.5,504.1 288.0,504.1 288.5,504.0 289.0,504.2 289.5,504.6 290.0,504.6 290.5,504.6 291.0,504.2 291.5,503.9 292.0,503.9 292.5,503.8 293.0,504.2 293.5,504.0 294.0,504.0 294.5,504.2 295.0,504.0 295.5,504.3 296.0,504.5 296.5,504.3 297.0,504.3 297.5,504.3 298.0,504.2 298.5,504.3 299.0,504.4 299.5,504.4 300.0,504.4 300.5,504.6 301.0,504.8 301.5,505.0 302.0,505.2 302.5,505.2 303.0,505.3 303.5,505.3 304.0,505.2 304.5,505.0 305.0,505.0 305.5,504.9 306.0,505.0 306.5,505.2 307.0,505.2 307.5,505.2 308.0,505.3 308.5,505.3 309.0,505.2 309.5,505.2 310.0,505.0 310.5,505.0 311.0,505.0 311.5,505.0 312.0,505.3 312.3,505.2 313.0,505.0 313.5,504.7 314.0,502.1 314.5,497.0 315.2,489.8 315.5,487.7 316.0,484.4 316.6,480.0 317.0,476.6 317.5,471.4 317.9,464.9 318.6,430.0 319.2,416.5 319.5,421.0 319.8,430.1 320.5,465.0 321.0,474.4 321.6,482.9 322.0,489.8 322.3,495.0 323.2,508.4 323.5,508.3 324.0,507.6 324.5,506.4 325.0,505.9 325.5,505.5 326.0,505.1 326.5,504.8 327.0,504.8 327.7,504.7 328.0,504.7 328.5,504.9 329.0,504.7 329.5,504.7 330.0,504.7 330.5,504.6 331.0,504.7 331.5,504.7 332.0,504.4 332.5,504.7 333.0,504.9 333.5,505.0 334.0,505.4 334.5,505.1 335.0,505.1 335.5,505.4 336.0,505.4 336.5,505.3 337.0,504.9 337.5,504.7 338.0,504.7 338.5,505.0 339.0,505.4 339.5,505.6 340.0,505.4 340.5,505.5 341.0,505.6 341.5,505.6 342.0,505.8 342.5,505.7 343.0,505.7 343.5,505.6 344.0,505.8 344.5,506.2 345.0,506.0 345.5,505.9 346.0,505.7 346.5,505.4 347.0,505.7 347.5,506.1 348.0,506.0 348.5,505.9 349.0,506.0 349.5,505.7 350.0,506.0 350.5,506.0 351.0,506.0 351.5,506.2 352.0,506.2 352.5,506.4 353.0,506.2 353.5,506.1 354.0,506.1 354.5,506.0 355.0,506.3 355.5,506.2 356.0,506.2 356.5,506.1 357.0,505.9 357.5,506.0 358.0,506.0 358.5,506.3 359.0,506.4 359.5,506.2 360.0,506.2 360.5,506.1 361.0,506.2 361.5,506.0 362.0,506.3 362.5,506.5 363.0,506.5 363.5,506.8 364.0,506.9 364.5,506.9 365.0,506.7 365.5,506.7 366.0,506.4 366.5,506.3 367.0,506.1 367.5,506.2 368.0,506.2 368.5,506.2 369.0,506.5 369.5,506.5 370.0,506.6 370.5,506.5 371.0,506.6 371.5,506.6 372.0,506.7 372.5,506.9 373.0,506.9 373.5,506.7 374.0,506.9 374.5,506.7 375.0,506.8 375.5,506.8 376.0,506.7 376.5,506.7 377.0,506.5 377.5,506.7 378.0,506.7 378.5,506.8 379.0,506.9 379.5,506.9 380.0,506.7 380.5,506.6 381.0,506.6 381.5,506.5 382.0,506.6 382.5,506.7 383.0,506.7 383.5,506.8 384.0,507.1 384.5,507.3 385.0,507.5 385.5,507.5 386.0,507.3 386.5,507.0 387.0,506.8 387.5,506.6 388.0,506.6 388.5,506.9 389.0,507.1 389.5,507.5 390.0,507.5 390.5,507.5 391.0,507.2 391.5,507.2 392.0,507.3 392.5,507.3 393.0,507.8 393.5,507.8 394.0,508.1 394.5,508.0 395.0,507.7 395.5,507.7 396.0,507.7 396.5,507.6 397.0,507.7 397.5,507.3 398.0,507.1 398.5,507.3 399.0,507.3 399.5,507.4 400.0,507.2 400.5,507.2 401.0,507.3 401.5,507.4 402.0,507.6 402.5,507.4 403.0,507.6 403.5,507.5 404.0,507.4 404.5,507.7 405.0,507.2 405.5,507.2 406.0,507.2 406.5,507.1 407.0,507.6 407.5,507.6 408.0,507.4 408.5,507.3 409.0,507.2 409.5,507.1 410.0,507.2 410.5,507.0 411.0,507.1 411.5,507.1 412.0,507.2 412.5,507.2 413.0,507.3 413.5,506.9 414.0,506.9 414.5,507.3 415.0,507.0 415.5,507.4 416.0,507.3 416.5,507.2 417.0,507.0 417.5,507.0 418.0,507.1 418.5,506.8 419.0,507.0 419.5,506.5 420.0,505.5 420.5,504.6 421.0,503.3 421.5,502.8 422.0,502.6 422.5,502.9 423.0,503.7 423.5,504.7 424.0,505.6 424.5,506.6 425.0,507.0 425.5,507.1 426.0,507.1 426.5,506.9 427.0,507.0 427.5,506.8 428.0,506.8 428.5,507.1 429.0,506.9 429.5,507.0 430.0,506.8 430.5,506.5 431.0,506.5 431.5,506.4 432.0,506.5 432.5,506.6 433.0,506.9 433.5,507.0 434.0,507.1 434.5,507.1 435.0,506.8 435.5,506.7 436.0,506.4 436.5,506.4 437.0,506.6 437.5,506.8 438.0,506.9 438.5,507.1 439.0,506.8 439.6,506.7 440.0,506.6 440.5,506.3 441.0,506.3 441.5,506.7 442.0,506.8 442.5,506.8 443.0,506.7 443.5,506.5 444.0,506.3 444.5,506.4 445.0,506.6 445.5,506.7 446.0,506.9 446.5,506.8 447.0,506.5 447.5,506.6 448.0,506.7 448.5,506.7 449.0,506.9 449.5,506.7 450.0,506.7 450.5,506.9 451.0,506.8 451.5,506.9 452.0,506.8 452.5,506.8 453.0,506.6 453.5,506.3 454.0,506.2 454.5,506.0 455.0,506.2 455.5,506.7 456.0,506.8 456.5,507.0 457.0,507.0 457.5,507.0 458.0,506.9 458.5,507.1 459.0,507.2 459.5,507.1 460.0,507.3 460.5,507.1 461.0,507.2 461.5,507.0 462.0,506.8 462.5,506.7 463.0,506.7 463.5,506.7 464.0,506.8 464.5,506.8 465.0,506.9 465.5,507.2 466.0,507.2 466.5,507.6 467.0,507.5 467.5,507.5 468.0,507.5 468.5,507.1 469.0,507.3 469.5,507.0 470.0,506.9 470.5,507.0 471.0,506.6 471.5,506.5 472.0,506.5 472.5,506.7 473.0,507.0 473.5,506.7 474.0,506.6 474.5,506.3 475.0,505.9 475.5,506.0 476.0,506.1 476.5,506.0 477.0,506.0 477.5,506.0 478.0,506.1 478.5,506.1 479.0,505.8 479.5,505.4 480.0,504.6 480.5,504.1 481.0,503.6 481.6,503.4 482.0,503.5 482.5,503.7 483.0,504.4 483.5,505.0 484.0,505.6 484.5,506.1 485.0,506.3 485.5,506.3 486.0,506.5 486.5,506.6 487.0,506.6 487.5,506.7 488.0,507.0 488.5,506.8 489.0,506.6 489.5,506.5 490.0,506.6 490.5,506.8 491.0,507.2 491.5,507.2 492.0,506.9 492.5,507.0 493.0,506.9 493.5,507.1 494.0,507.1 494.5,507.1 495.0,507.0 495.5,507.0 496.0,507.1 496.5,507.1 497.0,507.1 497.5,507.2 498.0,507.2 498.5,507.2 499.0,507.2 499.5,506.9 500.0,507.1 500.5,507.0 501.0,507.0 501.5,507.3 502.0,507.2 502.5,507.4 503.0,507.6 503.5,507.7 504.0,507.6 504.5,507.7 505.0,507.8 505.5,507.7 506.0,507.8 506.5,507.7 507.0,507.6 507.5,507.4 508.0,507.1 508.5,507.2 509.0,507.0 509.5,507.2 510.0,507.3 510.5,507.4 511.0,507.5" fill="none" stroke="#2e5d94" stroke-width="2.6" stroke-linejoin="round"/>
<polyline points="57.0,672.0 57.6,672.6 58.2,674.3 58.8,673.7 59.4,672.1 60.0,673.6 60.6,673.3 61.2,674.2 61.8,673.0 62.4,674.7 63.0,674.9 63.6,676.2 64.2,675.4 65.0,675.9 65.4,674.5 66.0,677.7 66.6,674.6 67.2,677.3 67.8,676.5 68.4,676.3 69.0,676.8 69.6,677.1 70.2,678.2 70.8,678.1 71.4,679.6 72.0,677.2 72.6,678.9 73.2,678.4 73.8,679.9 74.4,677.7 75.0,679.2 75.6,679.8 76.2,678.5 76.8,680.5 77.4,680.0 78.0,680.7 78.6,680.7 79.2,679.2 79.8,679.4 80.4,680.0 81.0,680.8 81.6,680.9 82.2,679.7 82.8,679.8 83.4,679.7 84.0,680.0 84.6,680.3 85.2,680.4 85.8,682.2 86.4,680.2 87.0,680.4 87.6,681.0 88.2,679.9 88.8,680.4 89.4,680.8 90.0,681.4 90.6,679.8 91.2,682.0 91.8,680.7 92.5,681.1 93.0,681.7 93.6,681.6 94.2,682.0 94.8,681.3 95.4,681.2 96.0,681.6 96.6,680.6 97.2,682.4 97.8,680.9 98.4,680.5 99.0,683.3 99.6,681.6 100.2,680.8 100.8,683.3 101.4,681.6 102.0,682.8 102.6,681.3 103.2,681.8 103.8,680.7 104.4,680.6 105.0,681.4 105.6,682.2 106.2,682.9 106.8,684.2 107.4,681.5 108.0,683.2 108.6,681.9 109.2,682.3 109.8,681.3 110.4,681.3 111.0,681.9 111.6,681.5 112.2,682.5 112.5,681.9 112.8,683.5 113.4,682.6 114.0,682.6 114.6,683.4 115.2,682.9 115.8,682.5 116.6,682.4 117.0,677.0 117.4,665.3 118.0,628.5 118.6,665.1 119.4,683.4 120.0,682.7 120.6,683.6 121.2,682.1 121.8,684.4 122.4,683.4 123.0,683.5 123.6,683.9 124.2,683.4 124.8,683.2 125.4,684.4 126.0,683.5 126.6,682.7 127.2,683.8 127.5,682.1 127.8,684.8 128.4,683.4 129.0,683.6 129.6,685.4 130.2,685.3 130.8,683.7 131.4,684.2 132.0,684.6 132.6,685.1 133.2,683.6 133.8,683.9 134.4,684.8 135.0,684.0 135.6,684.4 136.2,684.4 136.8,683.0 137.4,683.2 138.0,681.8 138.6,683.7 139.2,685.0 139.8,683.1 140.4,685.0 141.0,684.8 141.6,684.0 142.2,684.1 142.8,684.2 143.4,683.4 144.0,683.9 144.6,684.1 145.2,684.7 145.8,684.8 146.4,683.6 147.0,684.9 147.6,683.6 148.2,684.1 148.8,684.6 149.4,684.3 150.0,684.2 150.6,684.6 151.2,683.9 151.8,683.9 152.4,684.2 153.0,685.2 153.6,684.4 154.2,686.0 155.0,684.7 155.4,682.1 156.0,684.2 156.6,685.9 157.2,684.6 157.8,684.2 158.4,683.9 159.0,685.7 159.6,685.5 160.2,685.2 160.8,685.0 161.4,685.9 162.0,685.4 162.6,683.8 163.2,685.4 163.8,684.9 164.4,684.7 165.0,685.5 165.6,684.9 166.2,682.5 166.8,686.1 167.4,685.8 168.0,684.8 168.6,684.7 169.2,685.2 169.8,684.0 170.4,685.3 171.0,684.9 171.6,684.8 172.2,684.3 172.8,684.6 173.4,686.0 174.0,686.2 174.6,685.6 175.2,685.1 175.8,684.5 176.4,685.8 177.0,686.5 177.6,684.0 178.2,686.2 178.8,683.6 179.4,685.0 180.0,685.6 180.6,684.3 181.2,684.2 181.8,685.5 182.4,686.1 183.0,685.1 183.6,686.5 184.2,684.9 185.0,686.9 185.4,685.6 186.0,685.7 186.6,686.0 187.2,685.8 187.8,687.1 188.4,687.4 189.0,686.1 189.6,685.5 190.2,684.7 190.8,685.1 191.4,685.7 192.0,685.6 192.6,685.7 193.2,685.7 193.8,686.1 194.4,684.7 195.0,685.0 195.6,686.7 196.2,686.5 196.8,685.4 197.4,686.9 198.0,685.3 198.6,685.7 199.2,684.4 199.8,686.6 200.4,685.9 201.0,686.8 201.6,686.5 202.2,686.0 202.8,686.1 203.4,686.9 204.0,685.9 204.6,685.9 205.2,686.1 205.8,686.7 206.4,686.8 207.0,687.6 207.6,686.1 208.2,687.2 208.8,685.6 209.4,686.7 210.0,686.3 210.6,687.6 211.2,686.7 211.8,685.9 212.4,686.8 213.0,686.6 213.6,686.1 214.2,686.1 214.8,685.7 215.4,688.6 216.0,686.6 216.6,687.3 217.2,685.6 217.5,685.7 217.8,686.4 218.4,686.5 219.0,687.3 219.6,685.9 220.2,687.2 220.8,688.0 221.4,686.1 222.0,687.6 222.6,686.2 223.2,687.3 223.8,687.4 224.4,688.6 225.0,686.7 225.6,687.5 226.2,688.3 226.8,686.6 227.4,687.6 228.0,687.0 228.6,687.2 229.2,688.4 229.8,688.5 230.4,690.1 231.0,689.2 231.6,689.2 232.2,688.1 232.8,688.1 233.4,688.5 234.0,686.7 234.6,689.9 235.2,688.1 235.8,687.8 236.4,688.4 237.0,689.5 237.6,689.9 238.2,688.6 238.8,689.3 239.4,688.9 240.0,688.2 240.6,689.2 241.2,689.1 241.8,687.9 242.4,690.0 243.0,687.9 243.6,689.4 244.2,688.4 244.8,688.6 245.4,688.7 246.0,689.9 246.6,688.4 247.2,689.2 247.8,690.7 248.4,688.9 249.0,689.4 249.6,690.0 250.2,689.1 250.8,689.9 251.4,689.0 252.0,690.2 252.6,689.7 253.2,688.9 253.8,690.8 254.4,689.6 255.0,689.5 255.6,689.0 256.2,689.4 256.8,689.7 257.4,689.9 258.0,690.7 258.6,688.8 259.2,689.6 259.8,690.8 260.4,690.0 261.0,690.2 261.6,691.2 262.2,690.2 262.8,690.3 263.4,689.9 264.0,691.4 264.6,690.8 265.2,689.4 265.8,690.4 266.4,689.1 267.0,690.9 267.6,690.5 268.2,689.9 268.8,689.7 269.4,688.6 270.0,690.6 270.6,689.9 271.2,689.7 271.8,690.6 272.4,689.4 273.0,689.4 273.6,689.3 274.2,688.7 274.8,691.6 275.4,689.5 276.0,689.2 276.6,687.3 277.0,682.7 278.0,677.5 278.4,679.3 279.0,683.6 279.6,687.4 280.0,686.4 280.8,687.7 281.4,688.0 281.7,685.2 282.0,685.1 282.5,684.8 283.2,687.6 283.5,687.9 283.8,688.9 284.4,689.2 285.0,688.2 285.6,689.5 286.2,688.7 286.8,688.3 287.4,688.1 288.0,691.0 288.6,690.2 289.2,691.9 290.0,689.2 290.4,690.1 291.0,690.7 291.6,690.3 292.2,690.9 292.8,690.6 293.4,690.0 294.0,688.7 294.6,689.8 295.2,692.0 295.8,691.2 296.4,691.8 297.0,690.2 297.6,690.5 298.2,690.0 298.8,691.1 299.4,690.8 300.0,691.1 300.6,692.2 301.2,690.1 301.8,691.4 302.4,689.7 303.0,691.7 303.6,690.5 304.2,690.8 304.8,691.0 305.4,692.2 306.0,690.9 306.6,690.5 307.2,689.9 307.8,691.1 308.4,690.2 309.0,690.5 309.6,690.9 310.0,691.4 310.8,690.3 311.4,691.4 312.0,692.3 312.6,689.7 313.2,691.9 313.8,692.5 314.4,690.2 315.0,691.1 315.6,689.5 316.2,690.7 316.5,690.1 316.8,690.2 317.4,686.4 317.8,683.4 318.7,639.8 319.2,582.0 319.5,562.0 319.8,582.7 320.3,639.6 321.0,667.8 321.6,671.9 322.2,671.7 322.5,675.0 322.8,676.2 323.5,681.0 324.0,684.2 324.6,688.2 325.0,689.3 325.8,690.3 326.4,689.1 327.0,691.0 327.6,689.6 328.2,690.9 328.8,691.2 329.4,689.4 330.0,691.2 330.6,692.1 331.2,690.0 331.8,690.9 332.4,690.3 333.0,690.5 333.6,690.3 334.2,690.0 334.8,691.0 335.4,691.1 336.0,690.4 336.6,691.6 337.2,691.2 337.8,690.9 338.4,689.8 339.0,691.8 339.6,691.4 340.2,688.6 340.8,689.4 341.4,689.8 342.0,690.9 342.6,691.1 343.2,689.9 343.8,690.3 344.4,690.6 345.0,689.0 345.6,690.3 346.2,689.2 346.8,689.1 347.4,688.6 348.0,687.6 348.6,687.9 349.2,689.0 349.8,689.6 350.4,689.6 351.0,690.8 351.6,689.7 352.2,689.1 352.8,689.8 353.4,690.0 354.0,690.0 354.6,691.1 355.2,690.6 355.8,691.0 356.4,690.7 357.0,690.1 357.6,691.1 358.2,690.1 358.8,690.5 359.4,689.5 360.0,690.4 360.6,690.1 361.2,690.6 361.8,691.8 362.4,692.3 363.0,691.2 363.6,690.4 364.2,691.1 364.8,690.6 365.4,689.9 366.0,690.4 366.6,690.2 367.2,690.0 367.8,691.6 368.4,690.0 369.0,690.1 369.6,691.0 370.2,689.9 370.8,689.6 371.4,689.8 372.0,690.9 372.6,690.8 373.2,690.7 373.8,690.1 374.4,689.8 375.0,691.2 375.6,689.3 376.2,690.3 376.8,689.4 377.4,690.2 378.0,690.4 378.6,691.5 379.2,688.2 380.0,691.6 380.4,689.8 381.0,690.7 381.6,691.2 382.2,689.9 382.8,690.4 383.4,690.9 384.0,690.4 384.6,689.9 385.2,690.6 385.8,690.5 386.4,689.2 387.0,691.5 387.6,690.5 388.2,688.4 388.8,689.7 389.4,691.7 390.0,691.5 390.6,690.5 391.2,688.9 391.8,690.0 392.4,691.0 393.0,690.5 393.6,689.9 394.2,689.5 394.8,690.8 395.4,689.9 396.0,690.3 396.6,690.5 397.2,691.4 397.8,690.2 398.4,690.2 399.0,688.6 399.6,690.9 400.0,690.7 400.8,690.0 401.4,688.2 402.0,689.6 402.6,690.1 403.2,691.8 403.8,690.6 404.4,690.8 405.0,690.8 405.6,691.3 406.2,689.4 406.8,689.6 407.4,689.4 408.0,690.2 408.6,690.1 409.2,690.6 409.8,689.7 410.4,690.6 411.0,689.9 411.6,692.3 412.2,690.3 412.8,692.8 413.4,692.1 414.0,689.9 414.6,691.6 415.2,691.4 415.8,689.7 416.4,691.4 417.0,690.9 417.6,691.3 418.2,690.3 418.8,691.0 419.4,691.4 420.0,690.9 420.6,690.1 421.2,689.3 421.7,687.5 422.4,680.4 423.0,675.0 423.6,680.6 424.3,688.0 424.8,690.0 425.4,691.7 426.0,690.5 426.6,693.4 427.2,690.7 427.8,692.0 428.4,691.9 429.0,692.7 429.6,691.7 430.2,690.6 430.8,692.0 431.4,689.8 432.0,691.6 432.6,691.4 433.2,693.1 433.8,691.6 434.4,691.5 435.0,691.3 435.6,691.2 436.2,691.5 436.8,692.4 437.4,690.9 438.0,691.8 438.6,690.8 439.2,691.8 439.8,692.1 440.4,691.0 441.0,691.5 441.6,692.1 442.2,692.6 442.8,692.7 443.4,691.9 444.0,691.2 444.6,690.7 445.2,692.6 445.8,693.1 446.4,692.3 447.0,693.3 447.6,691.6 448.2,691.7 448.8,693.3 449.4,691.2 450.0,692.5 450.6,692.3 451.2,692.1 451.8,693.4 452.4,691.3 453.0,691.7 453.6,690.3 454.2,691.2 454.8,691.6 455.4,691.7 456.0,691.8 456.6,692.2 457.2,691.5 457.8,690.4 458.4,692.1 459.0,692.3 459.6,691.1 460.2,691.4 460.8,693.4 461.4,692.8 462.0,692.9 462.6,692.5 463.2,692.1 463.8,691.6 464.4,692.5 465.0,691.8 465.6,691.6 466.2,692.0 466.8,691.9 467.4,692.7 468.0,691.2 468.6,694.0 469.2,691.2 469.8,691.7 470.4,692.8 471.0,691.3 471.6,691.6 472.2,692.0 472.8,689.6 473.4,691.6 474.0,691.2 474.6,691.8 475.2,692.4 475.8,692.5 476.4,693.2 477.0,693.2 477.6,692.8 478.2,692.0 478.8,692.8 479.4,691.2 480.0,691.9 480.6,692.8 481.2,691.4 482.0,688.2 482.4,687.1 483.0,684.1 483.5,682.5 484.2,685.3 485.0,687.9 485.4,688.9 486.0,690.9 486.6,691.0 487.0,692.0 487.8,692.1 488.4,692.4 489.0,692.0 489.6,692.6 490.2,692.8 490.8,692.3 491.4,691.2 492.0,693.3 492.6,692.4 493.2,692.6 493.8,692.4 494.4,691.0 495.0,692.8 495.6,691.8 496.2,691.4 496.8,693.4 497.4,692.2 498.0,692.6 498.6,693.1 499.2,693.7 499.8,691.0 500.4,691.9 501.0,693.0 501.6,691.9 502.2,689.8 502.8,692.6 503.4,692.7 504.0,693.1 504.6,692.7 505.2,692.1 505.8,692.7 506.4,692.5 507.0,692.1 507.6,692.7 508.2,692.8 508.8,691.7 509.4,693.3 510.0,693.2 510.6,693.1 511.2,690.3 512.0,692.6" fill="none" stroke="#22426a" stroke-width="2.1" stroke-linejoin="round"/>
<path d="M93.0,701V693.3 M165.5,701V693.3 M237.9,701V693.3 M310.4,701V693.3 M382.8,701V693.3 M455.3,701V693.3 M60.1,701V697.3 M66.7,701V697.3 M73.2,701V697.3 M79.8,701V697.3 M86.4,701V697.3 M99.6,701V697.3 M106.2,701V697.3 M112.8,701V697.3 M119.3,701V697.3 M125.9,701V697.3 M132.5,701V697.3 M139.1,701V697.3 M145.7,701V697.3 M152.3,701V697.3 M158.9,701V697.3 M172.0,701V697.3 M178.6,701V697.3 M185.2,701V697.3 M191.8,701V697.3 M198.4,701V697.3 M205.0,701V697.3 M211.6,701V697.3 M218.2,701V697.3 M224.7,701V697.3 M231.3,701V697.3 M244.5,701V697.3 M251.1,701V697.3 M257.7,701V697.3 M264.3,701V697.3 M270.9,701V697.3 M277.4,701V697.3 M284.0,701V697.3 M290.6,701V697.3 M297.2,701V697.3 M303.8,701V697.3 M317.0,701V697.3 M323.6,701V697.3 M330.1,701V697.3 M336.7,701V697.3 M343.3,701V697.3 M349.9,701V697.3 M356.5,701V697.3 M363.1,701V697.3 M369.7,701V697.3 M376.3,701V697.3 M389.4,701V697.3 M396.0,701V697.3 M402.6,701V697.3 M409.2,701V697.3 M415.8,701V697.3 M422.4,701V697.3 M429.0,701V697.3 M435.5,701V697.3 M442.1,701V697.3 M448.7,701V697.3 M461.9,701V697.3 M468.5,701V697.3 M475.1,701V697.3 M481.6,701V697.3 M488.2,701V697.3 M494.8,701V697.3 M501.4,701V697.3 M508.0,701V697.3" stroke="#000" stroke-width="2" fill="none"/>
<rect x="57" y="4.5" width="456.5" height="196" fill="none"/>
<path d="M57,4.5H513.7V702.3H57Z" fill="none" stroke="#000" stroke-width="3"/>
<!-- tick labels -->
<g font-weight="bold" font-size="21.6" text-anchor="middle" fill="#000">
<text x="93" y="731" textLength="26.6" lengthAdjust="spacingAndGlyphs">10</text><text x="165.5" y="731" textLength="26.6" lengthAdjust="spacingAndGlyphs">20</text><text x="238.4" y="731" textLength="26.6" lengthAdjust="spacingAndGlyphs">30</text>
<text x="311" y="731" textLength="26.6" lengthAdjust="spacingAndGlyphs">40</text><text x="383.2" y="731" textLength="26.6" lengthAdjust="spacingAndGlyphs">50</text><text x="455.2" y="731" textLength="26.6" lengthAdjust="spacingAndGlyphs">60</text>
</g>
<text y="771.5" font-size="37" fill="#000"><tspan x="236.8" font-size="39.5" font-weight="bold">2</tspan><tspan x="259.3" font-size="39">θ</tspan><tspan x="291">(</tspan><tspan x="305" font-size="40" dy="3.5">°</tspan><tspan x="322.5" dy="-3.5">)</tspan></text>
<text transform="translate(35.5,483.5) rotate(-90)" font-size="42" font-weight="bold" fill="#000" textLength="270.5" lengthAdjust="spacingAndGlyphs">Intensity (a.u)</text>
<!-- panel labels -->
<g font-weight="bold" font-size="20" fill="#000">
<text x="59.3" y="24" textLength="27.8" lengthAdjust="spacingAndGlyphs">(d)</text>
<text x="59" y="201.5" textLength="26" lengthAdjust="spacingAndGlyphs">(c)</text>
<text x="60" y="376.5" textLength="27.5" lengthAdjust="spacingAndGlyphs">(b)</text>
<text x="59.5" y="551" textLength="27" lengthAdjust="spacingAndGlyphs">(a)</text>
</g>
<!-- legend -->
<g fill="#000" font-size="19">
<text font-family="'Liberation Sans', 'DejaVu Sans', sans-serif" x="189.2" y="26.6" font-size="9" text-anchor="middle">✱</text>
<text x="200.5" y="30" textLength="56.5" lengthAdjust="spacingAndGlyphs">V<tspan font-size="13" dy="5">2</tspan><tspan dy="-5">AlC</tspan></text>
<text font-family="'Liberation Serif', 'Noto Serif CJK SC', 'DejaVu Serif', serif" x="309" y="31" font-size="17" font-weight="bold" text-anchor="middle">∇</text>
<text x="328.5" y="31" textLength="58.5" lengthAdjust="spacingAndGlyphs">V<tspan font-size="13" dy="5">2</tspan><tspan dy="-5">CT</tspan><tspan font-size="13" font-style="italic" dy="5">x</tspan></text>
<text font-family="'Liberation Sans', 'DejaVu Sans', sans-serif" transform="translate(411.3,25.9) scale(1,1.22)" y="3.7" font-size="12.6" text-anchor="middle">◆</text>
<text x="416.3" y="31.4" font-size="20" textLength="81.6" lengthAdjust="spacingAndGlyphs">MWCNT</text>
</g>
<!-- panel d annotations -->
<g fill="#000" font-weight="bold">
<text font-family="'Liberation Serif', 'Noto Serif CJK SC', 'DejaVu Serif', serif" x="83.2" y="45.5" font-size="18" text-anchor="middle">∇</text>
<text x="64" y="62" font-size="17.5" textLength="43.5" lengthAdjust="spacingAndGlyphs">(002)</text>
<text font-family="'Liberation Sans', 'DejaVu Sans', sans-serif" transform="translate(188.9,89.4) scale(1,1.22)" y="3.9" font-size="13.4" text-anchor="middle">◆</text>
<text font-family="'Liberation Sans', 'DejaVu Sans', sans-serif" transform="translate(335.3,136.1) scale(1,1.22)" y="3.9" font-size="13.4" text-anchor="middle">◆</text>
<text x="378.7" y="102.5" font-size="16" textLength="125.4" lengthAdjust="spacingAndGlyphs">MWCNT@V<tspan font-size="11" dy="4">2</tspan><tspan dy="-4">CT</tspan><tspan font-size="10.5" font-style="italic" dy="5.5">x</tspan></text>
</g>
<!-- panel c -->
<g fill="#000" font-weight="bold">
<text font-family="'Liberation Sans', 'DejaVu Sans', sans-serif" transform="translate(204.8,203) scale(1,1.22)" y="4.1" font-size="14" text-anchor="middle">◆</text>
<text x="211.6" y="206" font-size="18" textLength="44.6" lengthAdjust="spacingAndGlyphs">(002)</text>
<text x="438" y="315.8" font-size="17.7" textLength="71.6" lengthAdjust="spacingAndGlyphs">MWCNT</text>
</g>
<!-- panel b -->
<g fill="#000" font-weight="bold">
<text font-family="'Liberation Serif', 'Noto Serif CJK SC', 'DejaVu Serif', serif" x="79" y="414.5" font-size="18" text-anchor="middle">∇</text>
<text x="67.6" y="434.5" font-size="17.5" textLength="43.6" lengthAdjust="spacingAndGlyphs">(002)</text>
<text font-family="'Liberation Sans', 'DejaVu Sans', sans-serif" x="118" y="471" font-size="13" text-anchor="middle">✱</text>
<text font-family="'Liberation Sans', 'DejaVu Sans', sans-serif" x="317.6" y="405" font-size="13" text-anchor="middle">✱</text>
<text x="385" y="457" font-size="18" textLength="119" lengthAdjust="spacingAndGlyphs">V<tspan font-size="12" dy="4">2</tspan><tspan dy="-4">CT</tspan><tspan font-size="12" font-style="italic" dy="4">x</tspan><tspan dy="-4"> MXene</tspan></text>
</g>
<!-- panel a -->
<g fill="#000" font-weight="bold">
<text font-family="'Liberation Sans', 'DejaVu Sans', sans-serif" x="119.9" y="619.3" font-size="13" text-anchor="middle">✱</text>
<text font-family="'Liberation Sans', 'DejaVu Sans', sans-serif" x="319.9" y="557.5" font-size="13" text-anchor="middle">✱</text>
<g font-size="9.8" lengthAdjust="spacingAndGlyphs">
<text transform="translate(122.9,604.7) rotate(-90)" textLength="25" lengthAdjust="spacingAndGlyphs">(002)</text>
<text transform="translate(280.6,669.6) rotate(-90)" textLength="26" lengthAdjust="spacingAndGlyphs">(100)</text>
<text transform="translate(290.9,687) rotate(-90)" textLength="26" lengthAdjust="spacingAndGlyphs">(101)</text>
<text transform="translate(321.7,543.6) rotate(-90)" textLength="25.5" lengthAdjust="spacingAndGlyphs">(103)</text>
<text transform="translate(425.3,670.6) rotate(-90)" textLength="25.6" lengthAdjust="spacingAndGlyphs">(106)</text>
<text transform="translate(487.1,678.9) rotate(-90)" textLength="24.6" lengthAdjust="spacingAndGlyphs">(110)</text>
</g>
<text x="388.5" y="599.5" font-size="16.8" textLength="98.2" lengthAdjust="spacingAndGlyphs">V<tspan font-size="11.5" dy="4">2</tspan><tspan dy="-4">AlC MAX</tspan></text>
</g>
</svg>
</body></html>
